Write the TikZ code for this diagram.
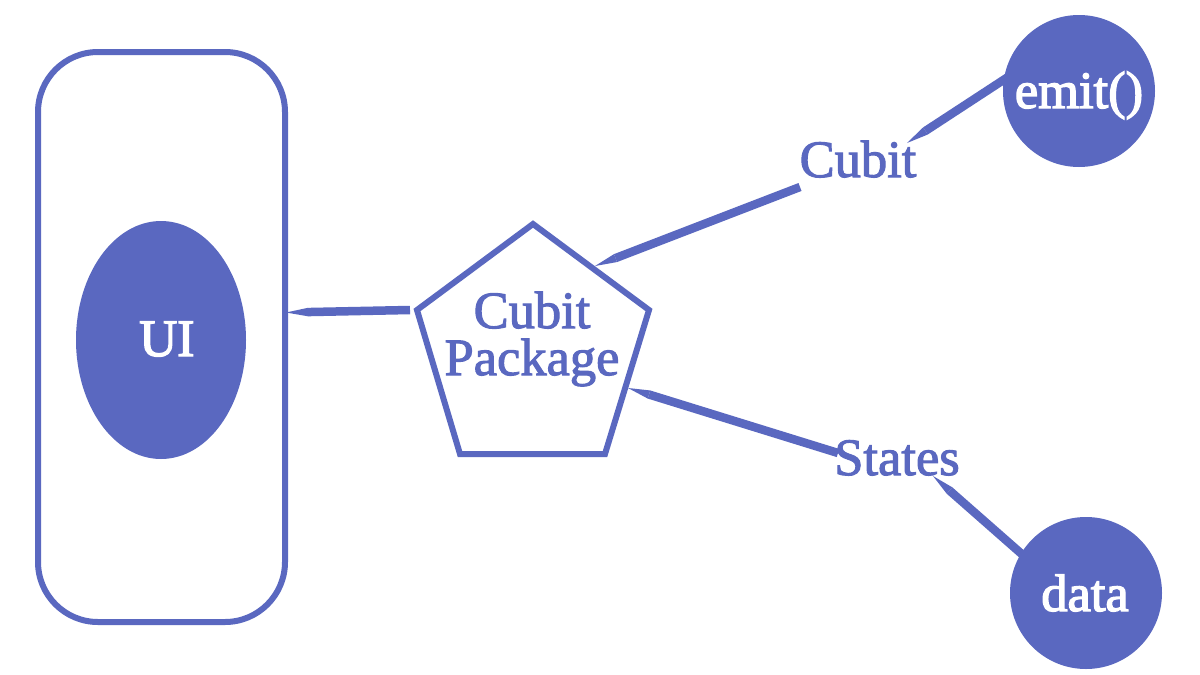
\documentclass[tikz,border=0pt]{standalone}
\usepackage{fontspec}
\setmainfont{Liberation Serif}
\newfontfamily\lblfont[FakeBold=2]{Liberation Serif}
\newfontfamily\wlblfont[FakeBold=2.5]{Liberation Serif}
\usetikzlibrary{arrows.meta,shapes.geometric}
\definecolor{ink}{HTML}{5A68C0}
\tikzset{
  lbl/.style={text=ink,font=\lblfont\fontsize{52.5}{47}\selectfont,inner sep=0pt,anchor=base},
  wlbl/.style={text=white,font=\wlblfont\fontsize{52.5}{47}\selectfont,inner sep=0pt,anchor=base},
  outline/.style={draw=ink,line width=6pt,line join=miter},
  blob/.style={fill=ink,draw=none,inner sep=0pt},
  conn/.style={draw=ink,line width=#1,-{Triangle[length=22pt,width=#1,line width=0pt]}},
  conn/.default=8.5pt
}
\begin{document}
\begin{tikzpicture}[x=1pt,y=-1pt]
\useasboundingbox (0,0) rectangle (1200,675);
\fill[white] (0,0) rectangle (1200,675);
% UI device
\node[outline,rounded corners=60pt,minimum width=247pt,minimum height=570pt,inner sep=0pt] (device) at (161.5,337) {};
\node[blob,ellipse,minimum width=170pt,minimum height=238pt] (uiblob) at (161,340) {};
\node[wlbl] (ui) at (167,356) {UI};
% pentagon
\coordinate (pa) at (533,224);
\coordinate (pb) at (649,310);
\coordinate (pc) at (605,454);
\coordinate (pd) at (460,454);
\coordinate (pe) at (417,310);
\draw[outline] (pa) -- (pb) -- (pc) -- (pd) -- (pe) -- cycle;
\node[lbl,anchor=center,align=center] (pk) at (532,339) {Cubit\\Package};
% circles
\node[blob,circle,minimum size=152pt] (emitc) at (1079,91) {};
\node[blob,circle,minimum size=152pt] (datac) at (1086,593) {};
\node[wlbl] (emitl) at (1079,108) {emit()};
\node[wlbl] (datal) at (1085,611) {data};
% labels
\node[lbl] (cubit) at (858,177) {Cubit};
\node[lbl] (states) at (897,475) {States};
% connector ends
\coordinate (a1) at (410,310);
\coordinate (a2) at (286,312.5);
\coordinate (b1) at (800,187);
\coordinate (b2) at (595,266);
\coordinate (c1) at (1008,77);
\coordinate (c2) at (907,143);
\coordinate (d1) at (838,453);
\coordinate (d2) at (628,388);
\coordinate (e1) at (1024,556);
\coordinate (e2) at (933,476);
\draw[conn] (a1) -- (a2);
\draw[conn] (b1) -- (b2);
\draw[conn] (c1) -- (c2);
\draw[conn] (d1) -- (d2);
\draw[conn] (e1) -- (e2);
\end{tikzpicture}
\end{document}
